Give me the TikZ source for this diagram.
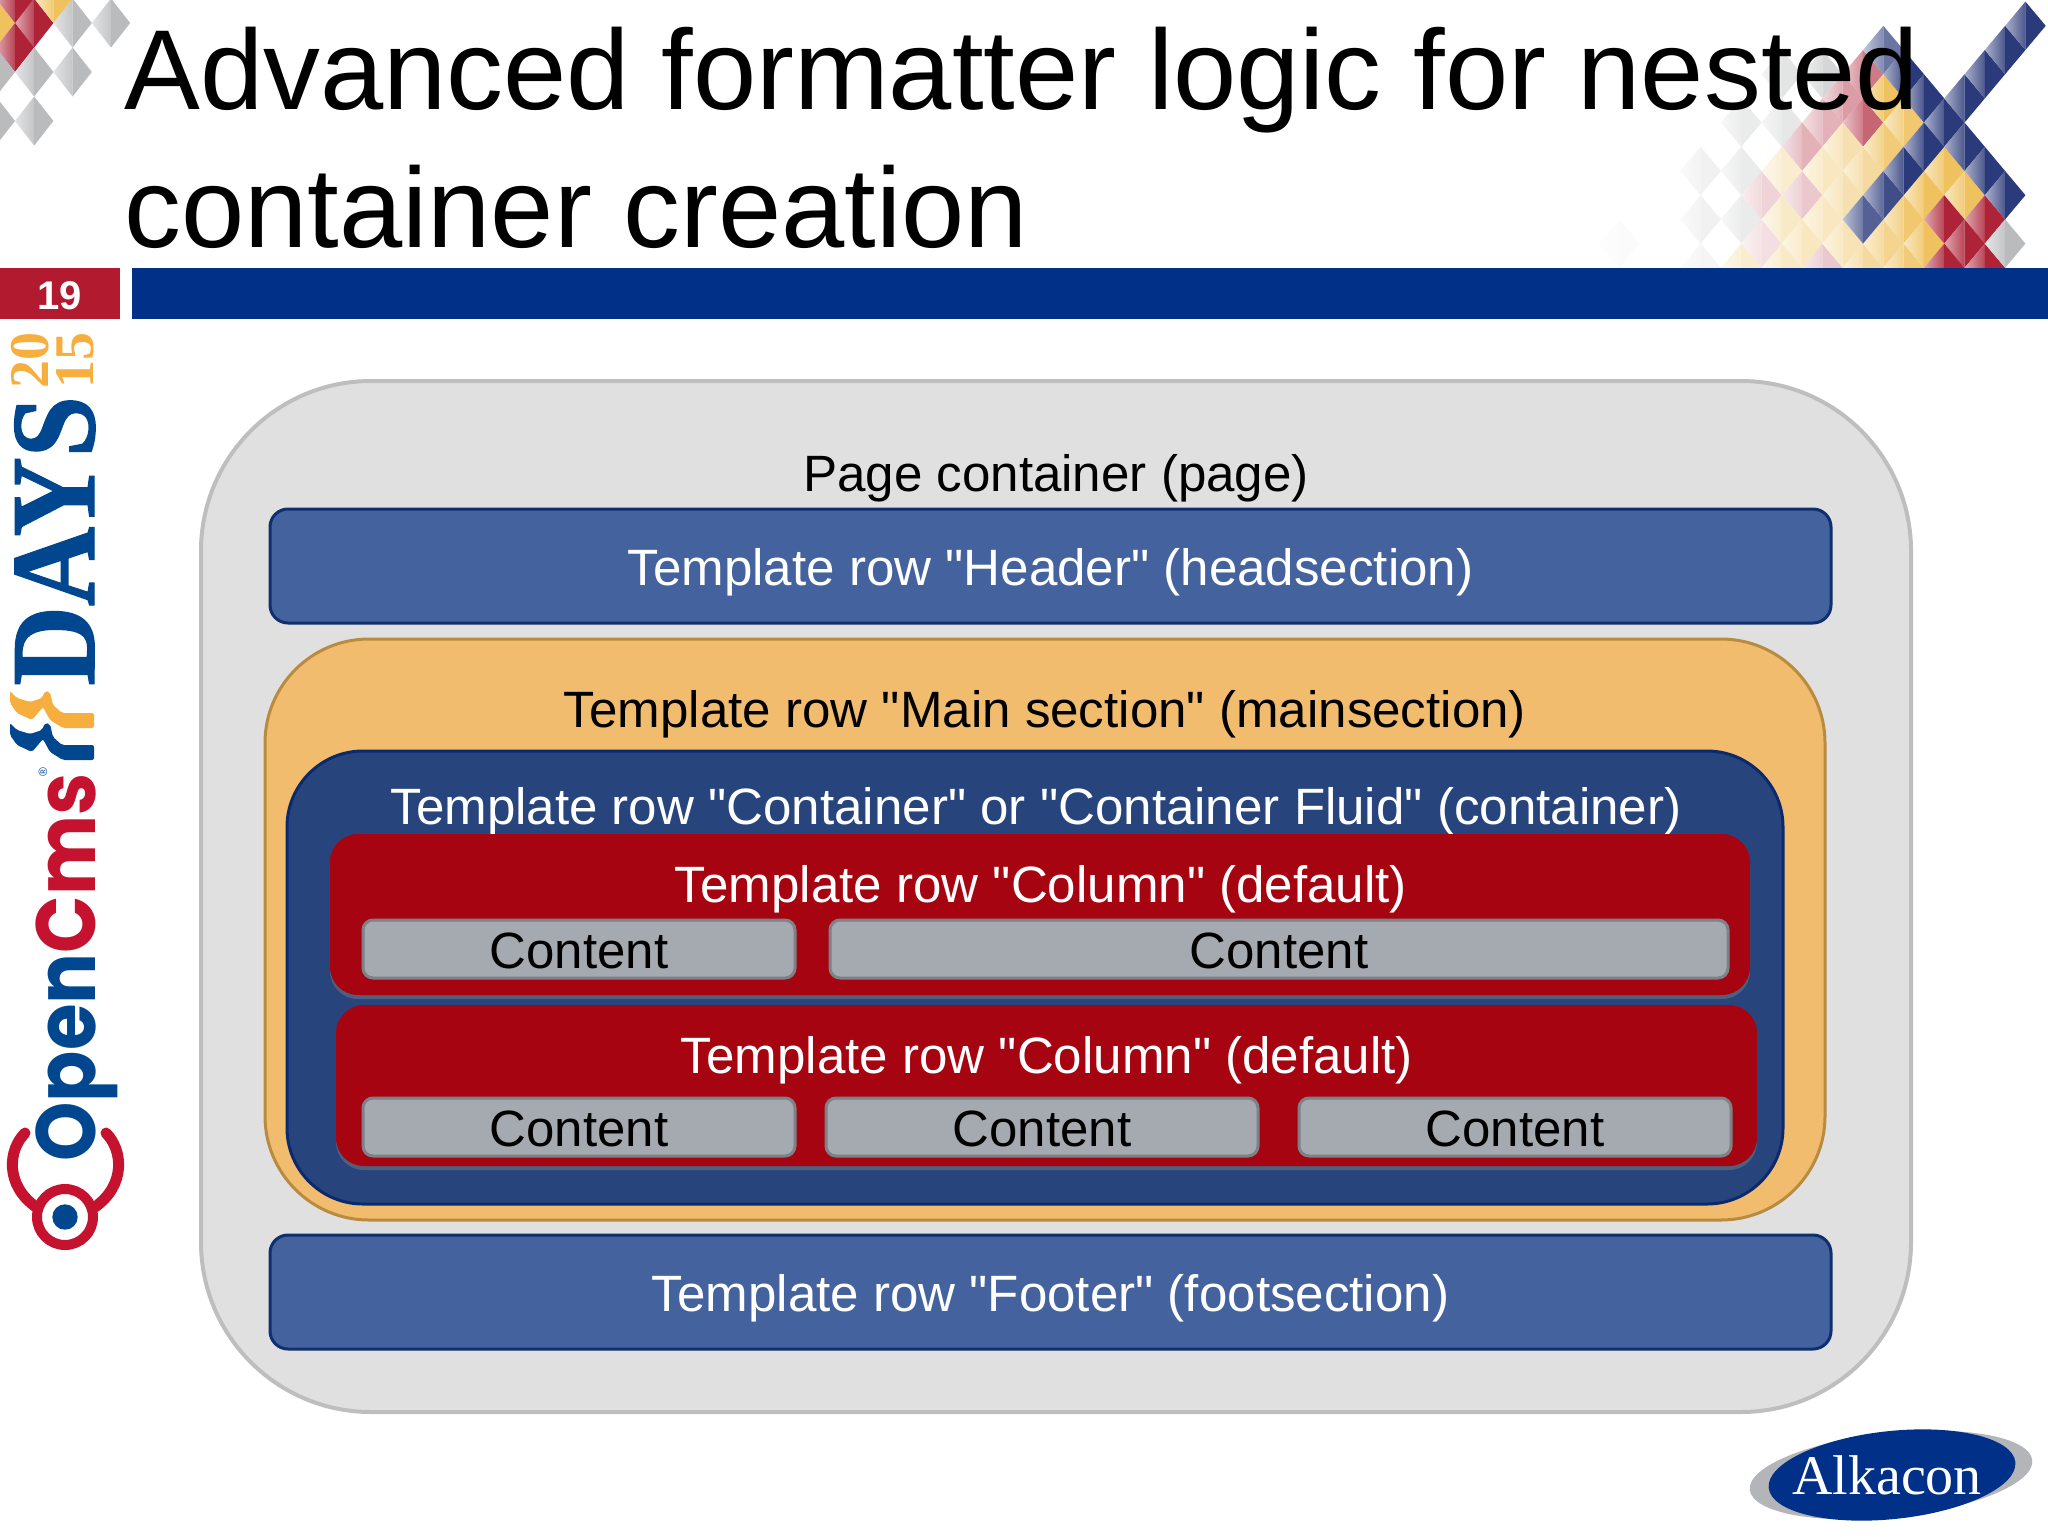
\documentclass[tikz,border=0pt]{standalone}
\usepackage{fontspec}
\setmainfont{Liberation Sans}[Ligatures=TeXOff]
\newfontfamily\serifface{Liberation Serif}[Ligatures=TeXOff]
\newfontfamily\daysface{Liberation Serif}[BoldFeatures={FakeBold=1.2}]
\newfontfamily\cmsface{Poppins}
\usetikzlibrary{shadows}

\definecolor{barblue}{HTML}{003087}
\definecolor{barred}{HTML}{B21A30}
\definecolor{pagegray}{HTML}{E1E0E0}
\definecolor{pageedge}{HTML}{BFBEBE}
\definecolor{rowblue}{HTML}{44639E}
\definecolor{rowedge}{HTML}{0F2F6E}
\definecolor{mainorange}{HTML}{F2BC6F}
\definecolor{mainedge}{HTML}{B98B3E}
\definecolor{contblue}{HTML}{27457C}
\definecolor{contedge}{HTML}{0B2A6E}
\definecolor{colred}{HTML}{A50410}
\definecolor{contentgray}{HTML}{A5A9B0}
\definecolor{contentedge}{HTML}{7E8288}
\definecolor{tnavy}{HTML}{2B3A7A}
\definecolor{tgold}{HTML}{EFC25F}
\definecolor{tred}{HTML}{AE2338}
\definecolor{tgray}{HTML}{B9BBBD}
\definecolor{cmsblue}{HTML}{00478F}
\definecolor{cmsred}{HTML}{C4122F}
\definecolor{daysorange}{HTML}{F6AE3F}
\definecolor{alkagray}{HTML}{B3B5B8}

% one tile of the corner patterns: shaded left half, flat right half
\newcommand{\tile}[3]{
  \shade[left color=#3!40!white,right color=#3!85!white] (#1-\tilew,#2) -- (#1,#2-\tileh) -- (#1,#2+\tileh) -- cycle;
  \fill[#3] (#1,#2-\tileh) -- (#1+\tilew,#2) -- (#1,#2+\tileh) -- cycle;
}

\begin{document}
\begin{tikzpicture}[
              x=0.5pt,y=-0.5pt,
              pagebox/.style={draw=pageedge,fill=pagegray,line width=2pt,rounded corners=85pt},
              mainbox/.style={draw=mainedge,fill=mainorange,line width=1.5pt,rounded corners=52pt},
              contbox/.style={draw=contedge,fill=contblue,line width=1.5pt,rounded corners=38pt},
              colbox/.style={fill=colred,rounded corners=14pt,drop shadow={shadow xshift=0pt,shadow yshift=-2pt,opacity=0.45}},
              rowbox/.style={draw=rowedge,fill=rowblue,line width=1.5pt,rounded corners=9pt,text=white,font=\fontsize{25.55}{30}\selectfont,
                inner sep=0pt,text height=21pt,text depth=1.5pt},
              contentbox/.style={draw=contentedge,fill=contentgray,line width=1.5pt,rounded corners=5pt,text=black,font=\fontsize{25.5}{30}\selectfont,
                minimum height=29pt,inner sep=0pt,text height=21pt,text depth=1.5pt},
              heading/.style={anchor=base,inner sep=0pt,font=\fontsize{25.55}{30}\selectfont},
              title/.style={anchor=base west,inner sep=0pt,font=\fontsize{56.85}{68}\selectfont}
            ]
            \useasboundingbox (0,0) rectangle (2048,1536);
            \fill[white] (0,0) rectangle (2048,1536);

            % Corner pattern, top left
            \def\tilew{19.2}
            \def\tileh{24.5}
            \foreach \k/\m/\c in {0/0/tgray,2/0/tgray,4/0/tred,6/0/tgold,3/-1/tgold,5/-1/tred,5/1/tred,
                                  2/2/tgray,4/2/tgray,6/2/tgray,4/4/tgray,6/4/tgray} {
              \pgfmathsetmacro{\tx}{111-19.2*\k}
              \pgfmathsetmacro{\ty}{23+24.5*\m}
              \tile{\tx}{\ty}{\c}
            }

            % Corner pattern, top right
            \def\tilew{20.3}
            \def\tileh{24.2}
            \begin{scope}
              \clip (1500,0) rectangle (2048,268);
              \foreach \u/\v/\c in {
                  % faint gray
                  -13/8/tgray!6!white,-9/5/tgray!20!white,-9/7/tgray!20!white,-7/3/tgray!30!white,-7/5/tgray!30!white,
                  -7/7/tgray!30!white,-5/1/tgray!40!white,-5/3/tgray!35!white,-3/1/tgray!60!white,-9/9/tgray!15!white,
                  % pink
                  -1/1/tred!60!white,-2/2/tred!45!white,-1/3/tred!70!white,-3/3/tred!35!white,-4/4/tred!35!white,
                  -4/6/tred!25!white,-6/6/tred!20!white,-6/8/tred!15!white,-3/9/tred!25!white,
                  % pale and full gold
                  -2/4/tgold!50!white,-1/5/tgold!60!white,-3/5/tgold!40!white,-5/5/tgold!30!white,-2/6/tgold!50!white,
                  -3/7/tgold!40!white,-5/7/tgold!35!white,-2/8/tgold!45!white,-4/8/tgold!40!white,-1/9/tgold!60!white,
                  -5/9/tgold!35!white,-7/9/tgold!30!white,0/8/tgold!70!white,1/9/tgold!85!white,
                  0/2/tgold,1/3/tgold!90!white,0/4/tgold!85!white,3/5/tgold,2/6/tgold,4/6/tgold,1/7/tgold!90!white,2/8/tgold,
                  % red and gray
                  3/7/tred,5/7/tred,4/8/tred,3/9/tred,5/9/tred,6/8/tgray,
                  % navy
                  0/0/tnavy!70!white,1/1/tnavy,2/2/tnavy,3/3/tnavy,4/4/tnavy,5/5/tnavy,6/6/tnavy,
                  -1/7/tnavy!80!white,0/6/tnavy!90!white,1/5/tnavy,2/4/tnavy,4/2/tnavy,5/1/tnavy,6/0/tnavy,7/-1/tnavy} {
                \pgfmathsetmacro{\tx}{1883.3+20.3*\u}
                \pgfmathsetmacro{\ty}{50+24.2*\v}
                \tile{\tx}{\ty}{\c}
              }
            \end{scope}

            % Title
            \node[title] (titleone) at (124,110) {Advanced formatter logic for nested};
            \node[title] (titletwo) at (124,247) {container creation};

            % Bars
            \fill[barred] (0,268) rectangle (120,319);
            \fill[barblue] (132,268) rectangle (2048,319);
            \node[text=white,inner sep=0pt,font=\bfseries\fontsize{20}{24}\selectfont] (slidenum) at (60,296) {19};

            % Side logo
            \node[anchor=base,rotate=90,inner sep=0pt,text=daysorange,font=\serifface\bfseries\fontsize{28}{30}\selectfont] (yeara) at (48,360) {20};
            \node[anchor=base,rotate=90,inner sep=0pt,text=daysorange,font=\serifface\bfseries\fontsize{28}{30}\selectfont] (yearb) at (93,360) {15};
            \node[anchor=base west,rotate=90,inner sep=0pt,text=cmsblue,xscale=1.1,yscale=1.2,font=\daysface\bfseries\fontsize{50}{52}\selectfont] (days) at (94,686) {DAYS};
            \foreach \s/\c in {0/daysorange,32/cmsblue} {
              \fill[\c,rounded corners=1pt,shift={(0,\s)}] (10,691) -- (17,698) -- (30,702) -- (42,698) -- (45,691) -- (50,692) -- (53,705) -- (62,713)
                -- (94,713) -- (94,728) -- (63,728) -- (50,720) -- (43,707) -- (32,720) -- (17,713) -- (10,703) -- cycle;
            }
            \node[anchor=base west,rotate=90,inner sep=0pt,xscale=0.9,font=\cmsface\bfseries\fontsize{42}{44}\selectfont] (opencms) at (95,1162) {\textcolor{cmsblue}{Open}\textcolor{cmsred}{Cms}};
            \node[text=cmsblue,inner sep=0pt,rotate=90,font=\fontsize{6}{7}\selectfont] (regmark) at (43,772) {\textregistered};
            \draw[cmsred,line width=5pt] (65,1217) circle[radius=28];
            \fill[cmsblue] (65,1217) circle[radius=12.7];
            \draw[cmsred,line width=5.5pt,line cap=round] (25,1133) .. controls (8,1150) and (5,1185) .. (36,1207);
            \draw[cmsred,line width=5.5pt,line cap=round] (106,1133) .. controls (123,1150) and (126,1185) .. (95,1207);

            % Page container
            \draw[pagebox] (201,381) rectangle (1911,1412);
            \node[heading] (pagelabel) at (1056,491) {Page container (page)};

            % Header
            \node[rowbox,minimum width=780.5pt,minimum height=57pt] (header) at (1050.5,566) {Template row "Header" (headsection)};

            % Main section
            \draw[mainbox] (265,639) rectangle (1825,1220);
            \node[heading] (mainlabel) at (1045,727) {Template row "Main section" (mainsection)};

            % Container
            \draw[contbox] (287,751) rectangle (1783,1204);
            \node[heading,text=white] (contlabel) at (1036,824) {Template row "Container" or "Container Fluid" (container)};

            % First column row
            \fill[colbox] (330,834) rectangle (1750,995);
            \node[heading,text=white] (colonelabel) at (1041,902) {Template row "Column" (default)};
            \node[contentbox,minimum width=216pt] (contenta) at (579,949) {Content};
            \node[contentbox,minimum width=449pt] (contentb) at (1279,949) {Content};

            % Second column row
            \fill[colbox] (336,1005) rectangle (1757,1166);
            \node[heading,text=white] (coltwolabel) at (1047,1073) {Template row "Column" (default)};
            \node[contentbox,minimum width=216pt] (contentc) at (579,1127) {Content};
            \node[contentbox,minimum width=216pt] (contentd) at (1042,1127) {Content};
            \node[contentbox,minimum width=216pt] (contente) at (1515,1127) {Content};

            % Footer
            \node[rowbox,minimum width=780.5pt,minimum height=57pt] (footer) at (1050.5,1292) {Template row "Footer" (footsection)};

            % Alkacon logo
            \fill[alkagray,rotate around={6:(1891,1475)}] (1891,1475) circle[x radius=142,y radius=42];
            \fill[barblue,rotate around={6:(1892,1475)}] (1892,1475) circle[x radius=124,y radius=44];
            \node[anchor=base,inner sep=0pt,text=white,font=\serifface\fontsize{28}{30}\selectfont] (alkacon) at (1887,1494) {Alkacon};
            \end{tikzpicture}
\end{document}
